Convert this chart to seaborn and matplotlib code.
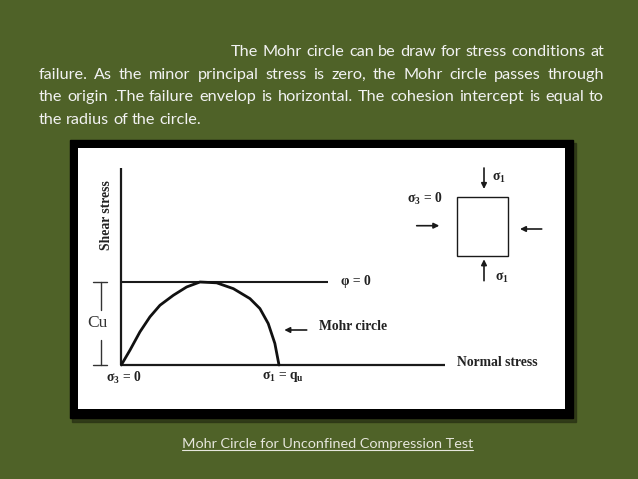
import matplotlib
matplotlib.use("Agg")
import matplotlib.pyplot as plt
from matplotlib.patches import Rectangle
import seaborn as sns

# Mohr circle (stress in units of Cu)
normal_stress = [0, 0.105, 0.225, 0.345, 0.466, 0.627, 0.787, 0.948, 1.149, 1.35, 1.55, 1.67, 1.77, 1.85, 1.90]
shear_stress = [0, 0.18, 0.40, 0.58, 0.72, 0.84, 0.94, 1.00, 0.99, 0.92, 0.80, 0.68, 0.50, 0.26, 0]
cu = 1.0
envelope_end = 2.485
axis_x_end = 3.905
axis_y_end = 2.373

paragraph = [
    "The Mohr circle can be draw for stress conditions at",
    "failure. As the minor principal stress is zero, the Mohr circle passes through",
    "the origin .The failure envelop is horizontal. The cohesion intercept is equal to",
    "the radius of the circle.",
]
caption = "Mohr Circle for Unconfined Compression Test"

sns.set_theme(style="white")
plt.rcParams["mathtext.fontset"] = "custom"
plt.rcParams["mathtext.bf"] = "Liberation Serif:bold"
plt.rcParams["mathtext.rm"] = "Liberation Serif"
plt.rcParams["mathtext.default"] = "bf"

W, H = 638, 479
green = "#4F6228"
ink = "#1a1a1a"
fig = plt.figure(figsize=(W / 100, H / 100), dpi=100, facecolor=green)

# slide layer, in pixel coordinates
bg = fig.add_axes([0, 0, 1, 1])
bg.set_xlim(0, W)
bg.set_ylim(H, 0)
bg.set_axis_off()
bg.add_patch(Rectangle((72, 143), 504, 279, color="#2a3314", alpha=0.8))
bg.add_patch(Rectangle((70, 140), 503, 278, color="black"))

renderer = fig.canvas.get_renderer()
body_font = dict(family="Lato", color="#F2F2F2")


def width_of(t):
    return t.get_window_extent(renderer).width


def fit_size(text, target):
    # font size that makes text as wide as on the slide
    probe = bg.text(0, 0, text, fontsize=10, family="Lato")
    size = 10 * target / width_of(probe)
    probe.remove()
    return size


body_size = fit_size(paragraph[-1], 164)
caption_size = fit_size(caption, 291.6)


def put_line(line, y, x0, x1, justify):
    words = line.split()
    texts = [bg.text(0, y, w, fontsize=body_size, va="center", **body_font) for w in words]
    widths = [width_of(t) for t in texts]
    if justify:
        gap = (x1 - x0 - sum(widths)) / (len(words) - 1)
    else:
        a = bg.text(0, 0, "x x", fontsize=body_size, **body_font)
        b = bg.text(0, 0, "xx", fontsize=body_size, **body_font)
        gap = width_of(a) - width_of(b)
        a.remove()
        b.remove()
    x = x0
    for t, w in zip(texts, widths):
        t.set_x(x)
        x += w + gap


line_y = [52, 74.5, 97, 119.5]
put_line(paragraph[0], line_y[0], 231, 604, True)
put_line(paragraph[1], line_y[1], 38.3, 604, True)
put_line(paragraph[2], line_y[2], 38.3, 604, True)
put_line(paragraph[3], line_y[3], 38.3, 604, False)

cap = bg.text(327.5, 444.3, caption, fontsize=caption_size, ha="center", va="center",
              family="Lato", color="#E6E6DC")
cb = cap.get_window_extent(renderer)
bg.plot([cb.x0, cb.x1], [449.8, 449.8], color="#E6E6DC", lw=0.8)

# diagram panel, in stress units (Cu = 1)
ox, oy, u = 121.3, 365.0, 83.0


def px(x, y):
    return ((x - ox) / u, (oy - y) / u)


ax = fig.add_axes([78 / W, 1 - 409 / H, 487 / W, 261 / H], zorder=3)
ax.set_facecolor("white")
ax.set_xlim(px(78, 0)[0], px(565, 0)[0])
ax.set_ylim(px(0, 409)[1], px(0, 148)[1])
for s in ax.spines.values():
    s.set_visible(False)
ax.set_xticks([])
ax.set_yticks([])

ax.plot([0, axis_x_end], [0, 0], color=ink, lw=1.6, solid_capstyle="butt")
ax.plot([0, 0], [0, axis_y_end], color=ink, lw=1.6, solid_capstyle="butt")
ax.plot([0, envelope_end], [cu, cu], color=ink, lw=1.5, solid_capstyle="butt")
sns.lineplot(x=normal_stress, y=shear_stress, sort=False, estimator=None,
             color="#111111", lw=2.0, ax=ax)

# Cu dimension
dx = px(100.7, 0)[0]
ax.plot([dx, dx], [0, px(0, 340)[1]], color="#333333", lw=1)
ax.plot([dx, dx], [px(0, 310)[1], cu], color="#333333", lw=1)
for yy in (0, cu):
    ax.plot([px(93, 0)[0], px(107, 0)[0]], [yy, yy], color="#333333", lw=1)
ax.text(*px(97, 323), "Cu", fontsize=12.5, family="Liberation Serif", color="#333333",
        ha="center", va="center")

lab = dict(family="Liberation Serif", fontweight="bold", fontsize=9.8, color="#222222", va="center")
ax.text(*px(106.7, 215), "Shear stress", rotation=90, ha="center", **lab)
ax.text(*px(457, 362), "Normal stress", ha="left", **lab)
ax.text(*px(340.6, 281), "φ = 0", ha="left", **lab)
ax.text(*px(318.6, 327), "Mohr circle", ha="left", **lab)
ax.text(*px(123.5, 377.5), "σ$_3$ = 0", ha="center", **lab)
ax.text(*px(282.5, 376.5), "σ$_1$ = q$_u$", ha="center", **lab)

arrow = dict(arrowstyle="-|>", color=ink, lw=1.2, mutation_scale=8, shrinkA=0, shrinkB=0)
ax.annotate("", xy=px(284.3, 330), xytext=px(306.7, 330), arrowprops=arrow)

# stress element
x0, y0 = px(456.7, 255.7)
x1, y1 = px(508.3, 197.3)
ax.add_patch(Rectangle((x0, y0), x1 - x0, y1 - y0, fill=False, ec=ink, lw=1.0))
ax.annotate("", xy=px(484, 189), xytext=px(484, 168), arrowprops=arrow)
ax.annotate("", xy=px(484, 259.3), xytext=px(484, 280.7), arrowprops=arrow)
ax.annotate("", xy=px(439.3, 225.7), xytext=px(416.7, 225.7), arrowprops=arrow)
ax.annotate("", xy=px(520, 229), xytext=px(541.7, 229), arrowprops=arrow)
ax.text(*px(491.7, 178), "σ$_1$", ha="left", **lab)
ax.text(*px(495, 278.3), "σ$_1$", ha="left", **lab)
ax.text(*px(406.7, 199), "σ$_3$ = 0", ha="left", **lab)

fig.savefig("out.png", dpi=100, facecolor=green)
